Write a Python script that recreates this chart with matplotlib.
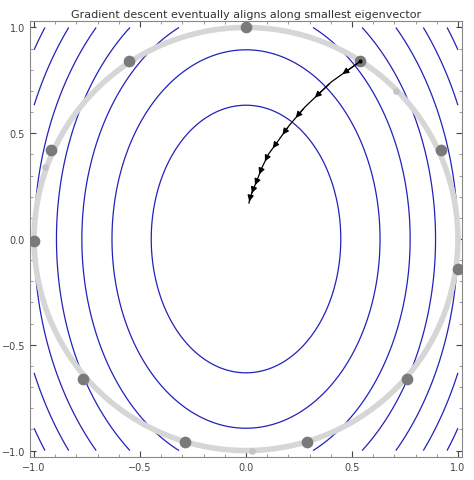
import matplotlib
matplotlib.use("Agg")
import matplotlib.pyplot as plt
import numpy as np

# quadratic f = x^2 + 0.5 y^2, contour levels
levels = [0.2, 0.4, 0.6, 0.8, 1.0, 1.2, 1.4]
coef_x, coef_y = 1.0, 0.5

# gradient descent path
path_x = [0.54, 0.403, 0.278, 0.204, 0.148, 0.106, 0.074, 0.051, 0.032, 0.019, 0.014]
path_y = [0.84, 0.743, 0.624, 0.537, 0.459, 0.401, 0.335, 0.275, 0.229, 0.193, 0.17]

# dots on unit circle
dot_x = [0.0, -0.55, -0.92, -1.0, -0.77, -0.29, 0.29, 0.76, 1.0, 0.92, 0.54]
dot_y = [1.0, 0.84, 0.42, -0.01, -0.66, -0.96, -0.96, -0.66, -0.14, 0.42, 0.84]
small_x = [0.71, -0.95, 0.03]
small_y = [0.7, 0.34, -1.0]

fig = plt.figure(figsize=(4.74, 4.81), dpi=100)
ax = fig.add_axes([0.063, 0.048, 0.912, 0.906])

g = np.linspace(-1.0, 1.0, 400)
X, Y = np.meshgrid(g, g)
ax.contour(X, Y, coef_x * X**2 + coef_y * Y**2, levels=levels, colors="#2222bb", linewidths=0.9)

t = np.linspace(0, 2 * np.pi, 400)
ax.plot(np.cos(t), np.sin(t), color="#d6d6d6", lw=4, zorder=2, solid_capstyle="round")
ax.scatter(small_x, small_y, s=14, color="#c4c4c4", zorder=3)
ax.scatter(dot_x, dot_y, s=55, color="#7a7a7a", zorder=4)

ax.plot(path_x, path_y, color="black", lw=0.9, zorder=5)
for i in range(len(path_x) - 1):
    x0, y0, x1, y1 = path_x[i], path_y[i], path_x[i + 1], path_y[i + 1]
    ax.annotate("", xy=(x0 + 0.7 * (x1 - x0), y0 + 0.7 * (y1 - y0)), xytext=(x0, y0),
                arrowprops=dict(arrowstyle="-|>", color="black", lw=0.9, mutation_scale=9),
                zorder=6)
ax.scatter([path_x[0]], [path_y[0]], s=4, color="black", zorder=7)

ax.set_xlim(-1.02, 1.02)
ax.set_ylim(-1.03, 1.03)
ax.set_xticks([-1.0, -0.5, 0.0, 0.5, 1.0])
ax.set_yticks([-1.0, -0.5, 0.0, 0.5, 1.0])
ax.xaxis.set_minor_locator(matplotlib.ticker.MultipleLocator(0.1))
ax.yaxis.set_minor_locator(matplotlib.ticker.MultipleLocator(0.1))
ax.tick_params(labelsize=7, colors="#444444", direction="in", length=4, top=True, right=True)
ax.tick_params(which="minor", direction="in", length=2, top=True, right=True, colors="#888888")
for s in ax.spines.values():
    s.set_color("#888888")
ax.set_title("Gradient descent eventually aligns along smallest eigenvector", fontsize=8, color="#333333", pad=3)
fig.savefig("out.png", dpi=100)
